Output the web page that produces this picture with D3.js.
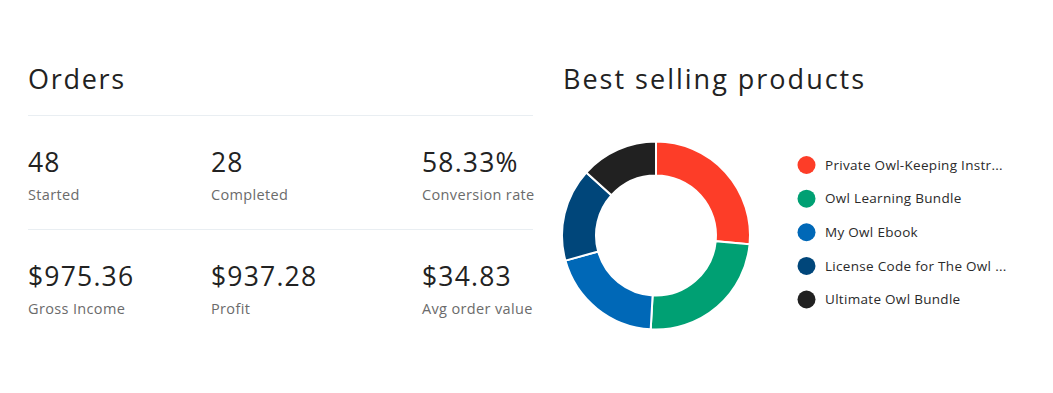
<!DOCTYPE html>
<html>
<head>
<meta charset="utf-8">
<script src="https://cdn.jsdelivr.net/npm/d3@7"></script>
<style>
  html, body { margin: 0; padding: 0; background: #fff; }
  svg { display: block; }
</style>
</head>
<body>
<svg id="chart" width="1053" height="393"></svg>
<script>
// ---- data ----
const statValues = ["48", "28", "58.33%", "$975.36", "$937.28", "$34.83"];
const statLabels = ["Started", "Completed", "Conversion rate", "Gross Income", "Profit", "Avg order value"];
const products = ["Private Owl-Keeping Instr...", "Owl Learning Bundle", "My Owl Ebook", "License Code for The Owl ...", "Ultimate Owl Bundle"];
const productShares = [26.5, 24.4, 19.8, 16.0, 13.3];
const productColors = ["#fd3d28", "#00a073", "#0068b7", "#00467a", "#212121"];

const svg = d3.select("#chart");
const FONT = "'Open Sans', sans-serif";

// ---- Orders panel ----
svg.append("text").attr("x", 28).attr("y", 89)
  .attr("font-family", FONT).attr("font-size", 27).attr("fill", "#222")
  .attr("letter-spacing", 1.7)
  .text("Orders");

[115.5, 229.5].forEach(y => {
  svg.append("line").attr("x1", 28).attr("x2", 533).attr("y1", y).attr("y2", y)
    .attr("stroke", "#e9eef2").attr("stroke-width", 1);
});

const colX = d3.scalePoint().domain([0, 1, 2]).range([28, 422]);
const rowY = d3.scalePoint().domain([0, 1]).range([172, 286]);

const stats = svg.append("g");
statValues.forEach((v, i) => {
  const c = i % 3, r = Math.floor(i / 3);
  const x = [28, 211, 422][c];
  stats.append("text").attr("x", x).attr("y", rowY(r))
    .attr("font-family", FONT).attr("font-size", 26.5).attr("fill", "#222")
    .attr("letter-spacing", 1.2)
    .text(v);
  stats.append("text").attr("x", x).attr("y", rowY(r) + 28)
    .attr("font-family", FONT).attr("font-size", 14.5).attr("fill", "#6b6b6b")
    .attr("letter-spacing", 0.35)
    .text(statLabels[i]);
});

// ---- Best selling products ----
svg.append("text").attr("x", 563).attr("y", 89)
  .attr("font-family", FONT).attr("font-size", 27).attr("fill", "#222")
  .attr("letter-spacing", 2)
  .text("Best selling products");

const pie = d3.pie().sort(null).value(d => d);
const arc = d3.arc().innerRadius(60).outerRadius(94);
const donut = svg.append("g").attr("transform", "translate(656,235.5)");
donut.selectAll("path").data(pie(productShares)).join("path")
  .attr("d", arc)
  .attr("fill", (d, i) => productColors[i])
  .attr("stroke", "#fff").attr("stroke-width", 2);

const legY = d3.scalePoint().domain(d3.range(products.length)).range([165, 299.5]);
const leg = svg.append("g");
products.forEach((p, i) => {
  leg.append("circle").attr("cx", 806.5).attr("cy", legY(i)).attr("r", 9)
    .attr("fill", productColors[i]);
  leg.append("text").attr("x", 825).attr("y", legY(i)).attr("dy", "0.35em")
    .attr("font-family", FONT).attr("font-size", 13.5).attr("font-weight", 500)
    .attr("fill", "#2a2a2a").attr("letter-spacing", 0.3)
    .text(p);
});
</script>
</body>
</html>
